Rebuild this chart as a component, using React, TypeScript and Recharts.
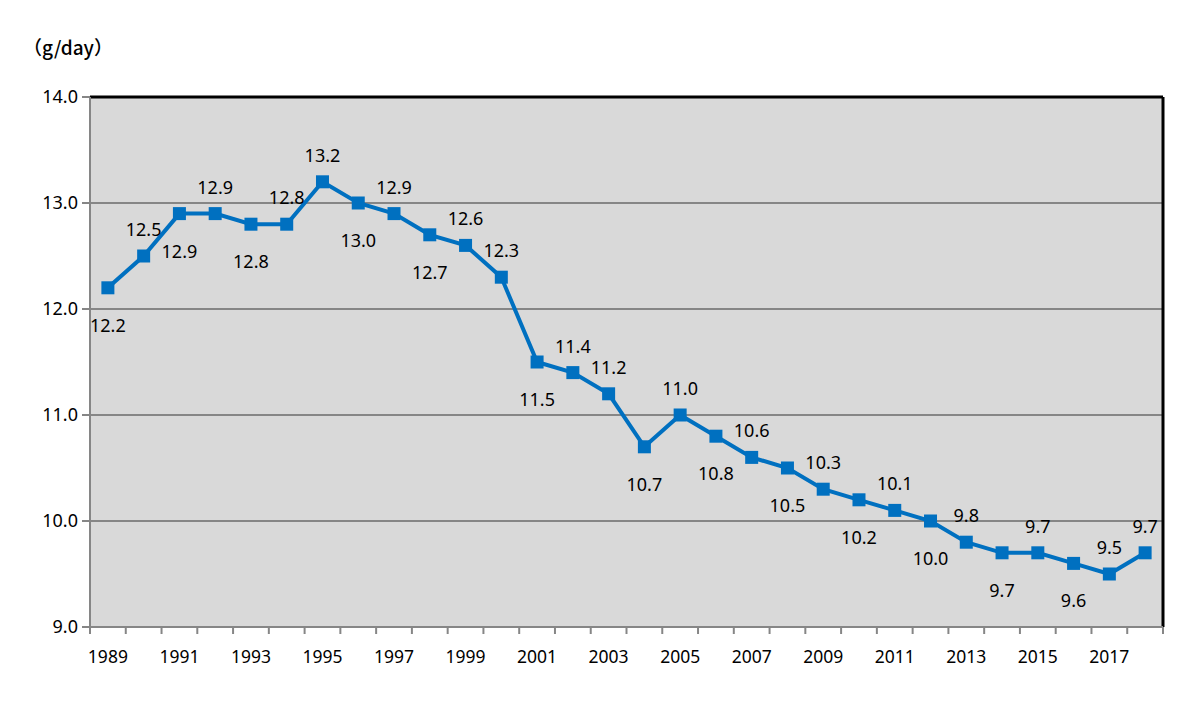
import React from 'react'
import { LineChart, Line, XAxis, YAxis, CartesianGrid, ReferenceLine, LabelList } from 'recharts'

const years = [
  '1989', '1990', '1991', '1992', '1993', '1994', '1995', '1996', '1997', '1998',
  '1999', '2000', '2001', '2002', '2003', '2004', '2005', '2006', '2007', '2008',
  '2009', '2010', '2011', '2012', '2013', '2014', '2015', '2016', '2017', '2018',
]
const saltIntake = [
  12.2, 12.5, 12.9, 12.9, 12.8, 12.8, 13.2, 13.0, 12.9, 12.7,
  12.6, 12.3, 11.5, 11.4, 11.2, 10.7, 11.0, 10.8, 10.6, 10.5,
  10.3, 10.2, 10.1, 10.0, 9.8, 9.7, 9.7, 9.6, 9.5, 9.7,
]
const yTicks = [9, 10, 11, 12, 13, 14]
const unitLabel = '（g/day）'

// years whose value label sits under the marker
const labelsBelow = ['1989', '1991', '1993', '1996', '1998', '2001', '2004', '2006', '2008', '2010', '2012', '2014', '2016']

const data = years.map((y, i) => ({ year: y, value: saltIntake[i] }))

const W = 1189
const H = 699
const plotLeft = 82
const plotTop = 89
const plotRight = 1155
const plotBottom = 619
const half = (plotRight - plotLeft) / (years.length * 2)

const BLUE = '#0070C0'
const GRID = '#868686'
const numFont = '"Noto Sans", sans-serif'

function SquareDot(props: any) {
  const { cx, cy } = props
  if (cx == null || cy == null) return null
  return <rect x={cx - 6.5} y={cy - 6.5} width={13} height={13} fill={BLUE} />
}

function YearTick(props: any) {
  const { x, y, index, payload } = props
  const last = index === years.length - 1
  return (
    <g>
      <line x1={x - half} x2={x - half} y1={y} y2={y + 7} stroke={GRID} strokeWidth={2} />
      {last && <line x1={x + half} x2={x + half} y1={y} y2={y + 7} stroke={GRID} strokeWidth={2} />}
      {index % 2 === 0 && (
        <text x={x} y={y + 29} textAnchor="middle" dominantBaseline="central" fontFamily={numFont} fontSize={17.5} fill="#000">
          {payload.value}
        </text>
      )}
    </g>
  )
}

function ValueLabel(props: any) {
  const { x, y, index, value } = props
  const below = labelsBelow.includes(years[index])
  return (
    <text
      x={x}
      y={below ? y + 37 : y - 27}
      textAnchor="middle"
      dominantBaseline="central"
      fontFamily={numFont}
      fontSize={18}
      fill="#000"
    >
      {Number(value).toFixed(1)}
    </text>
  )
}

export default function App() {
  return (
    <div style={{ position: 'relative', width: W, height: H }}>
      <div
        style={{
          position: 'absolute',
          left: 15,
          top: 25,
          fontFamily: '"Noto Sans CJK JP", sans-serif',
          fontSize: 19,
          fontWeight: 500,
          color: '#000',
          whiteSpace: 'nowrap',
        }}
      >
        {unitLabel}
      </div>
      <LineChart
        width={W}
        height={H}
        data={data}
        margin={{ top: plotTop, right: W - plotRight, left: 0, bottom: 0 }}
      >
        <CartesianGrid vertical={false} stroke={GRID} strokeWidth={2} fill="#D9D9D9" fillOpacity={1} />
        <CartesianGrid
          horizontal={false}
          stroke="#000"
          strokeWidth={3}
          verticalCoordinatesGenerator={({ offset }: any) => [offset.left + offset.width]}
        />
        <XAxis
          dataKey="year"
          interval={0}
          padding={{ left: half, right: half }}
          height={H - plotBottom}
          tickSize={0}
          tickMargin={0}
          tickLine={false}
          axisLine={{ stroke: GRID, strokeWidth: 2 }}
          tick={<YearTick />}
        />
        <YAxis
          width={plotLeft}
          domain={[9, 14]}
          ticks={yTicks}
          interval={0}
          tickFormatter={(v: number) => v.toFixed(1)}
          axisLine={{ stroke: GRID, strokeWidth: 2 }}
          tickLine={{ stroke: GRID, strokeWidth: 2 }}
          tickSize={8}
          tickMargin={4}
          tick={{ fill: '#000', fontSize: 18, fontFamily: numFont }}
        />
        <ReferenceLine y={14} stroke="#000" strokeWidth={3} />
        <Line
          type="linear"
          dataKey="value"
          stroke={BLUE}
          strokeWidth={4}
          dot={<SquareDot />}
          activeDot={false}
          isAnimationActive={false}
        >
          <LabelList dataKey="value" content={<ValueLabel />} />
        </Line>
      </LineChart>
    </div>
  )
}
